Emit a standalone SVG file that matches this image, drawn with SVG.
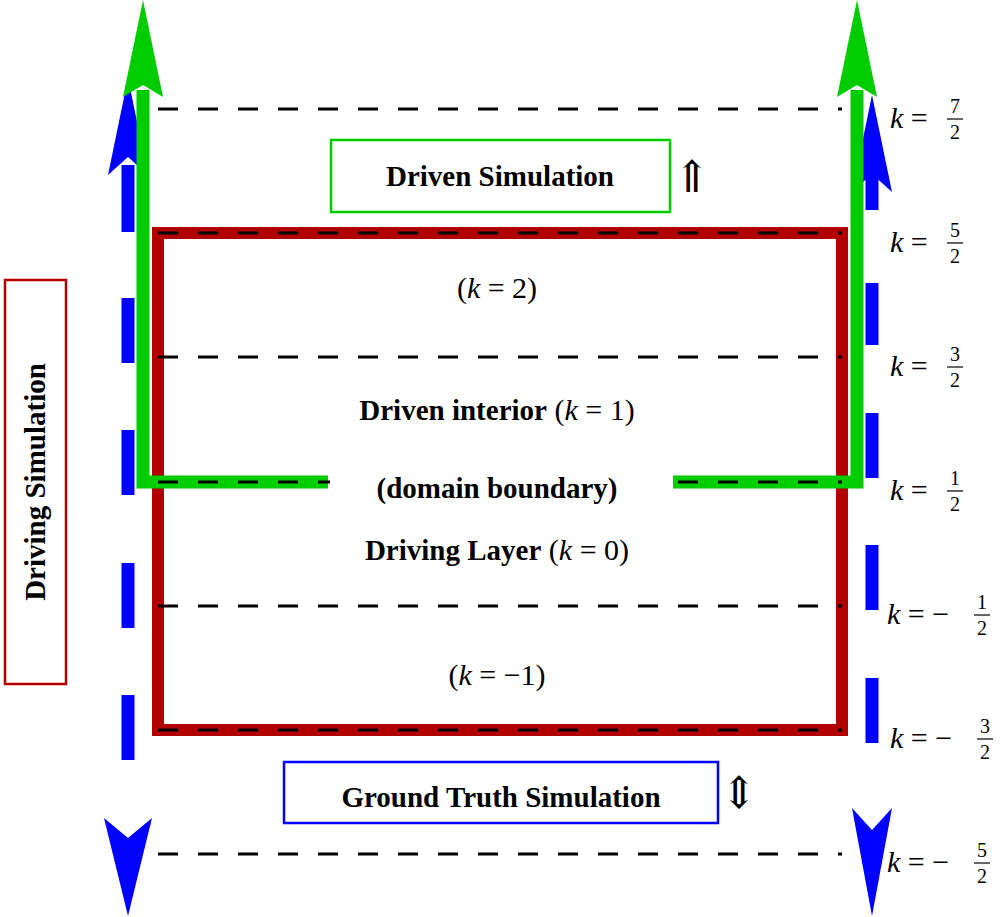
<svg xmlns="http://www.w3.org/2000/svg" width="1000" height="917" viewBox="0 0 1000 917">
<style>
.dash{stroke:#000;stroke-width:3;stroke-dasharray:20 20;fill:none}
.t{font-family:"Liberation Serif",serif;font-size:29px;font-weight:bold;text-anchor:middle}
.m{font-family:"Liberation Serif",serif;font-size:30px;text-anchor:middle}
.ar{font-family:"DejaVu Serif",serif;font-size:44px;text-anchor:middle}
.k{font-family:"Liberation Serif",serif;font-size:30px}
.f{font-family:"Liberation Serif",serif;font-size:20px;text-anchor:middle}
.bl{stroke:#0000ff;stroke-width:13;fill:none}
.gr{stroke:#00cc00;stroke-width:13;fill:none}
</style>
<rect width="1000" height="917" fill="#fff"/>
<g id="connectors">
<path class="bl" d="M128 165V232M128 298V363M128 430V495M128 563V628M128 695V760"/>
<polygon fill="#0000ff" points="128,78 148,175 128,157 108,175"/>
<polygon fill="#0000ff" points="128,916 104,818 128,838 152,818"/>
<path class="bl" d="M872 165V210M872 283V345M872 413V478M872 545V610M872 678V743"/>
<polygon fill="#0000ff" points="872,95 892,192 872,174 852,192"/>
<polygon fill="#0000ff" points="872,916 852,808 872,830 892,808"/>
<rect id="domain" x="158" y="233" width="684" height="497" fill="none" stroke="#b00000" stroke-width="12"/>
<path class="gr" d="M143 90V482H328M673 482H857V90"/>
<polygon fill="#00cc00" points="143,0 163,97 143,85 123,97"/>
<polygon fill="#00cc00" points="857,0 877,97 857,85 837,97"/>
<path class="dash" d="M158 109H842M158 233H842M158 357H842M158 482H842M158 606H842M158 730H842M158 854H842"/>
</g>
<g id="driving"><rect x="5" y="280" width="61" height="404" fill="#fff" stroke="#b00000" stroke-width="2.5"/>
<text class="t" transform="translate(45 482) rotate(-90)">Driving Simulation</text></g>
<g id="driven"><rect x="331" y="140" width="339" height="72" fill="#fff" stroke="#00cc00" stroke-width="2.5"/>
<text class="t" x="500" y="186">Driven Simulation</text>
<text class="ar" x="692" y="192">⇑</text></g>
<g id="ground"><rect x="284" y="762" width="434" height="61" fill="#fff" stroke="#0000ff" stroke-width="2.5"/>
<text class="t" x="501" y="807">Ground Truth Simulation</text>
<text class="ar" x="739" y="808">⇕</text></g>
<g id="labels">
<text class="m" x="497" y="298">(<tspan font-style="italic">k</tspan> = 2)</text>
<text class="m" x="497" y="420"><tspan font-weight="bold" style="font-size:29px">Driven interior</tspan> (<tspan font-style="italic">k</tspan> = 1)</text>
<rect x="330" y="468" width="340" height="30" fill="#fff"/>
<text class="t" x="497" y="498">(domain boundary)</text>
<text class="m" x="497" y="560"><tspan font-weight="bold" style="font-size:29px">Driving Layer</tspan> (<tspan font-style="italic">k</tspan> = 0)</text>
<text class="m" x="497" y="685">(<tspan font-style="italic">k</tspan> = −1)</text>
</g>
<g id="klabels">
<text class="k" x="890" y="128"><tspan font-style="italic">k</tspan> =</text><text class="f" x="955" y="113">7</text><line x1="947" y1="119" x2="963" y2="119" stroke="#000" stroke-width="1.2"/><text class="f" x="955" y="139">2</text>
<text class="k" x="890" y="252"><tspan font-style="italic">k</tspan> =</text><text class="f" x="955" y="237">5</text><line x1="947" y1="243" x2="963" y2="243" stroke="#000" stroke-width="1.2"/><text class="f" x="955" y="263">2</text>
<text class="k" x="890" y="376"><tspan font-style="italic">k</tspan> =</text><text class="f" x="955" y="361">3</text><line x1="947" y1="367" x2="963" y2="367" stroke="#000" stroke-width="1.2"/><text class="f" x="955" y="387">2</text>
<text class="k" x="890" y="500"><tspan font-style="italic">k</tspan> =</text><text class="f" x="955" y="485">1</text><line x1="947" y1="491" x2="963" y2="491" stroke="#000" stroke-width="1.2"/><text class="f" x="955" y="511">2</text>
<text class="k" x="887" y="624"><tspan font-style="italic">k</tspan> = −</text><text class="f" x="982" y="609">1</text><line x1="974" y1="615" x2="990" y2="615" stroke="#000" stroke-width="1.2"/><text class="f" x="982" y="635">2</text>
<text class="k" x="890" y="748"><tspan font-style="italic">k</tspan> = −</text><text class="f" x="985" y="733">3</text><line x1="977" y1="739" x2="993" y2="739" stroke="#000" stroke-width="1.2"/><text class="f" x="985" y="759">2</text>
<text class="k" x="887" y="872"><tspan font-style="italic">k</tspan> = −</text><text class="f" x="982" y="857">5</text><line x1="974" y1="863" x2="990" y2="863" stroke="#000" stroke-width="1.2"/><text class="f" x="982" y="883">2</text>
</g>
</svg>
